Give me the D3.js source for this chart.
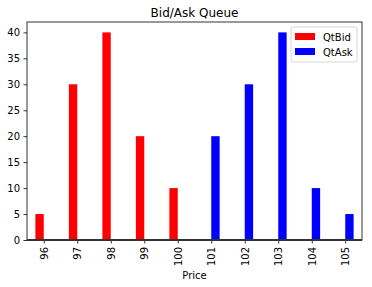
<!DOCTYPE html>
<html>
<head>
<meta charset="utf-8">
<script src="https://d3js.org/d3.v7.min.js"></script>
<style>
  body { margin: 0; background: #fff; }
  text { font-family: "DejaVu Sans", sans-serif; fill: #000; }
</style>
</head>
<body>
<div id="chart"></div>
<script>
var prices = ["96", "97", "98", "99", "100", "101", "102", "103", "104", "105"];
var qtBid = [5, 30, 40, 20, 10, 0, 0, 0, 0, 0];
var qtAsk = [0, 0, 0, 0, 0, 20, 30, 40, 10, 5];
var yTicks = [0, 5, 10, 15, 20, 25, 30, 35, 40];

var width = 372, height = 287;
var margin = { left: 27, right: 10, top: 22, bottom: 47 };

var svg = d3.select("#chart").append("svg")
    .attr("width", width)
    .attr("height", height);

var x = d3.scaleLinear().domain([-0.5, prices.length - 0.5])
    .range([margin.left, width - margin.right]);
var y = d3.scaleLinear().domain([0, 42])
    .range([height - margin.bottom, margin.top]);

var series = [
    { name: "QtBid", values: qtBid, color: "#ff0000", offset: -0.25 },
    { name: "QtAsk", values: qtAsk, color: "#0000ff", offset: 0 }
];
var barW = 0.25;

// bars
series.forEach(function (s) {
    svg.append("g").selectAll("rect")
        .data(s.values)
        .enter()
        .append("rect")
        .attr("x", function (d, i) { return x(i + s.offset); })
        .attr("width", x(barW) - x(0))
        .attr("y", function (d) { return y(d); })
        .attr("height", function (d) { return y(0) - y(d); })
        .attr("fill", s.color);
});

// axes
var yAxis = svg.append("g")
    .attr("transform", "translate(" + margin.left + ",0)")
    .call(d3.axisLeft(y).tickValues(yTicks).tickSize(3.5).tickPadding(3.5));
var xAxis = svg.append("g")
    .attr("transform", "translate(0," + y(0) + ")")
    .call(d3.axisBottom(x).tickValues(d3.range(prices.length))
        .tickFormat(function (d) { return prices[d]; })
        .tickSize(3.5).tickPadding(3.5));

xAxis.selectAll("text")
    .attr("transform", "rotate(-90)")
    .attr("x", -7)
    .attr("y", 0)
    .attr("dy", "0.35em")
    .style("text-anchor", "end");

[yAxis, xAxis].forEach(function (a) {
    a.select(".domain").remove();
    a.selectAll("text").style("font-size", "10px").attr("fill", "#000");
    a.selectAll("line").attr("stroke", "#000").attr("stroke-width", 0.8);
});

// frame
svg.append("rect")
    .attr("x", margin.left)
    .attr("y", margin.top)
    .attr("width", width - margin.left - margin.right)
    .attr("height", y(0) - margin.top)
    .attr("fill", "none")
    .attr("stroke", "#000")
    .attr("stroke-width", 0.8);
// zero-height bars leave a thicker line at the baseline
svg.append("line")
    .attr("x1", margin.left).attr("x2", width - margin.right)
    .attr("y1", y(0)).attr("y2", y(0))
    .attr("stroke", "#333").attr("stroke-width", 1.8);

// title and label
svg.append("text")
    .attr("x", (margin.left + width - margin.right) / 2)
    .attr("y", 17)
    .attr("text-anchor", "middle")
    .style("font-size", "12px")
    .text("Bid/Ask Queue");
svg.append("text")
    .attr("x", (margin.left + width - margin.right) / 2)
    .attr("y", 279)
    .attr("text-anchor", "middle")
    .style("font-size", "10px")
    .text("Price");

// legend
var lg = svg.append("g").attr("transform", "translate(291,27)");
lg.append("rect")
    .attr("width", 66).attr("height", 35).attr("rx", 2)
    .attr("fill", "#fff").attr("fill-opacity", 0.8)
    .attr("stroke", "#ccc").attr("stroke-width", 0.8);
series.forEach(function (s, i) {
    lg.append("rect")
        .attr("x", 4).attr("y", 6 + i * 15)
        .attr("width", 20).attr("height", 7)
        .attr("fill", s.color);
    lg.append("text")
        .attr("x", 32).attr("y", 10 + i * 15)
        .attr("dy", "0.35em")
        .style("font-size", "10px")
        .text(s.name);
});
</script>
</body>
</html>
